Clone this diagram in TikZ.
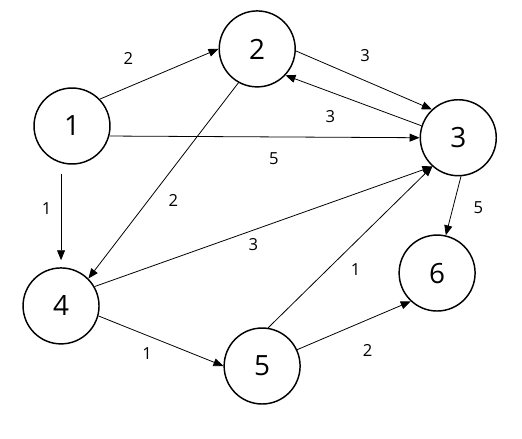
\documentclass[tikz,border=0pt]{standalone}
\usepackage{fontspec}
\setmainfont{Open Sans}
\usepackage{tikz}
\usetikzlibrary{calc,arrows.meta,positioning}

\begin{document}
\begin{tikzpicture}[->,>={Triangle[length=7.5pt,width=6pt]},on grid,line width=0.6pt,
  node/.style={minimum size=2.01cm,circle,draw,line width=1.1pt,font=\fontsize{21}{25}\selectfont}]

  \node[node] (1) {1};
  \node[node] (2) [above right=2.04cm and 4.9cm of 1] {2};
  \node[node] (3) [below right=2.35cm and 5.32cm of 2] {3};
  \node[node] (4) [below left=4.76cm and 0.29cm of 1] {4};
  \node[node] (5) [below right=1.59cm and 5.32cm of 4] {5};
  \node[node] (6) [above right=2.46cm and 4.63cm of 5] {6};

  \useasboundingbox ($(1)+(-1.905,-8.281)$) rectangle ($(1)+(11.906,3.334)$);

  \path[every node/.style={font=\fontsize{12.5}{15}\selectfont,inner sep=0pt}]
    (1.44) edge node[pos=.24,above=17pt] {2} (2.west)
    (1.-15) edge node[pos=.53,below=11.3pt] {5} (3.west)
    (4.north |- 1.south) edge[shorten <=6.75pt,shorten >=5.25pt] node[pos=.43,left=7pt] {1} (4.north)
    (2.-3) edge node[pos=.51,above=14.2pt] {3} (3.133)
    (3.162) edge node[pos=.67,below=14pt] {3} (2.-43)
    (2.241) edge node[pos=.6,right=15pt] {2} (4.45)
    (4.30) edge node[pos=.47,below=6.2pt] {3} (3.228)
    (5.81) edge node[pos=.36,right=17.5pt] {1} (3.228)
    (3.274) edge node[pos=.53,right=15.2pt] {5} (6.77)
    (4.-15) edge node[pos=.39,below=8.7pt] {1} (5.west)
    (5.25) edge node[pos=.62,below=18.3pt] {2} (6.227);

\end{tikzpicture}
\end{document}
